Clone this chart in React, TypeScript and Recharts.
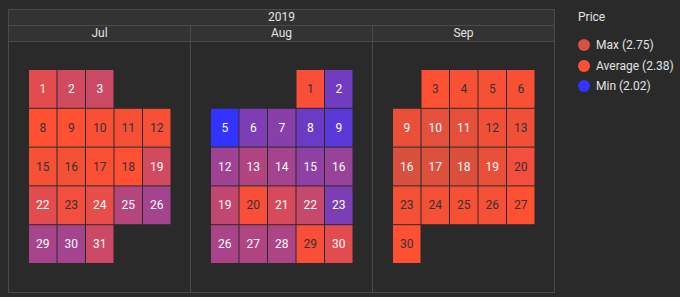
import { ScatterChart, Scatter, XAxis, YAxis } from "recharts";

const YEAR = 2019;
const MONTHS = ["Jul", "Aug", "Sep"];
const MONTH_NUMBERS = [6, 7, 8];

const JUL_DAYS = [1, 2, 3, 8, 9, 10, 11, 12, 15, 16, 17, 18, 19, 22, 23, 24, 25, 26, 29, 30, 31];
const JUL_PRICES = [2.33, 2.3, 2.29, 2.38, 2.38, 2.44, 2.49, 2.47, 2.47, 2.49, 2.42, 2.38, 2.3, 2.33, 2.36, 2.34, 2.25, 2.22, 2.225, 2.22, 2.29];

const AUG_DAYS = [1, 2, 5, 6, 7, 8, 9, 12, 13, 14, 15, 16, 19, 20, 21, 22, 23, 26, 27, 28, 29, 30];
const AUG_PRICES = [2.37, 2.13, 2.02, 2.15, 2.17, 2.12, 2.09, 2.21, 2.24, 2.22, 2.18, 2.2, 2.27, 2.37, 2.31, 2.28, 2.15, 2.23, 2.24, 2.235, 2.37, 2.33];

const SEP_DAYS = [3, 4, 5, 6, 9, 10, 11, 12, 13, 16, 17, 18, 19, 20, 23, 24, 25, 26, 27, 30];
const SEP_PRICES = [2.38, 2.46, 2.45, 2.46, 2.58, 2.65, 2.62, 2.51, 2.52, 2.75, 2.7, 2.72, 2.6, 2.36, 2.48, 2.48, 2.46, 2.47, 2.39, 2.38];

const DAYS = [JUL_DAYS, AUG_DAYS, SEP_DAYS];
const PRICES = [JUL_PRICES, AUG_PRICES, SEP_PRICES];

const LEGEND_TITLE = "Price";
const LEGEND_LABELS = ["Max", "Average", "Min"];
const LEGEND_VALUES = [2.75, 2.38, 2.02];

const [PRICE_MAX, PRICE_AVG, PRICE_MIN] = LEGEND_VALUES;
const MIN_RGB = [51, 51, 255];
const AVG_RGB = [255, 80, 51];
const MAX_RGB = [216, 80, 62];

const BG = "#2a2a2a";
const HEADER_BG = "#333333";
const BORDER = "#4a4a4a";
const HEADER_TEXT = "#e2e2e2";
const FONT = "Roboto, 'Noto Sans', sans-serif";

// layout
const FRAME_LEFT = 8;
const FRAME_TOP = 9;
const COL_W = 182;
const ROW_H = 16;
const BODY_TOP = FRAME_TOP + ROW_H * 2;
const BODY_H = 251;
const MARGIN = { top: 29, right: 18.5, bottom: 28, left: 21 };
const CELL_W = (COL_W - MARGIN.left - MARGIN.right) / 5;
const CELL_H = (BODY_H - MARGIN.top - MARGIN.bottom) / 5;

const lerp = (a: number[], b: number[], t: number) => a.map((v, i) => v + (b[i] - v) * t);

function priceRgb(v: number) {
  if (v <= PRICE_AVG) return lerp(MIN_RGB, AVG_RGB, (v - PRICE_MIN) / (PRICE_AVG - PRICE_MIN));
  return lerp(AVG_RGB, MAX_RGB, (v - PRICE_AVG) / (PRICE_MAX - PRICE_AVG));
}

const toCss = (c: number[]) => `rgb(${c.map((v) => Math.round(v)).join(",")})`;

function luminance(c: number[]) {
  const lin = c.map((v) => {
    const s = v / 255;
    return s <= 0.03928 ? s / 12.92 : Math.pow((s + 0.055) / 1.055, 2.4);
  });
  return 0.2126 * lin[0] + 0.7152 * lin[1] + 0.0722 * lin[2];
}

const dayNum = (m: number, d: number) => Math.round(Date.UTC(YEAR, m, d) / 86400000);
const weekdayOf = (m: number, d: number) => (new Date(Date.UTC(YEAR, m, d)).getUTCDay() + 6) % 7;

function buildMonth(mi: number) {
  const m = MONTH_NUMBERS[mi];
  let first = 1;
  while (weekdayOf(m, first) > 4) first++;
  const firstMonday = dayNum(m, first) - weekdayOf(m, first);
  return DAYS[mi].map((d, i) => {
    const rgb = priceRgb(PRICES[mi][i]);
    return {
      day: d,
      price: PRICES[mi][i],
      weekday: weekdayOf(m, d),
      week: (dayNum(m, d) - weekdayOf(m, d) - firstMonday) / 7,
      fill: toCss(rgb),
      textFill: luminance(rgb) > 0.245 ? "#333333" : "#ffffff",
    };
  });
}

const DayCell = (props: any) => {
  const { cx, cy, payload } = props;
  if (cx == null || cy == null) return null;
  return (
    <g>
      <rect x={cx - CELL_W / 2} y={cy - CELL_H / 2} width={CELL_W - 1} height={CELL_H - 1} fill={payload.fill} />
      <text
        x={cx - 0.5}
        y={cy - 0.5}
        textAnchor="middle"
        dominantBaseline="central"
        fontSize={12}
        fontFamily={FONT}
        fill={payload.textFill}
      >
        {payload.day}
      </text>
    </g>
  );
};

function MonthGrid({ mi }: { mi: number }) {
  const data = buildMonth(mi);
  return (
    <ScatterChart width={COL_W} height={BODY_H} margin={MARGIN}>
      <XAxis type="number" dataKey="weekday" domain={[-0.5, 4.5]} hide />
      <YAxis type="number" dataKey="week" domain={[-0.5, 4.5]} reversed hide />
      <Scatter data={data} shape={DayCell} isAnimationActive={false} />
    </ScatterChart>
  );
}

const box = (left: number, top: number, width: number, height: number, bg?: string) => ({
  position: "absolute" as const,
  left,
  top,
  width,
  height,
  boxSizing: "border-box" as const,
  border: `1px solid ${BORDER}`,
  background: bg,
  color: HEADER_TEXT,
  fontSize: 12,
  lineHeight: `${height - 2}px`,
  textAlign: "center" as const,
});

export default function App() {
  return (
    <div
      style={{
        position: "absolute",
        left: 0,
        top: 0,
        width: 680,
        height: 297,
        background: BG,
        fontFamily: FONT,
        overflow: "hidden",
      }}
    >
      <div style={box(FRAME_LEFT, FRAME_TOP, COL_W * 3 + 1, ROW_H + 1, HEADER_BG)}>{YEAR}</div>
      {MONTHS.map((name, i) => (
        <div key={name} style={box(FRAME_LEFT + i * COL_W, FRAME_TOP + ROW_H, COL_W + 1, ROW_H + 1, HEADER_BG)}>
          {name}
        </div>
      ))}
      {MONTHS.map((name, i) => (
        <div key={name + "-body"} style={box(FRAME_LEFT + i * COL_W, BODY_TOP, COL_W + 1, BODY_H + 1)} />
      ))}
      {MONTHS.map((name, i) => (
        <div key={name + "-chart"} style={{ position: "absolute", left: FRAME_LEFT + i * COL_W, top: BODY_TOP }}>
          <MonthGrid mi={i} />
        </div>
      ))}
      <div style={{ position: "absolute", left: 578, top: 9, color: HEADER_TEXT, fontSize: 12, lineHeight: "16px" }}>
        {LEGEND_TITLE}
      </div>
      {LEGEND_LABELS.map((label, i) => (
        <div
          key={label}
          style={{
            position: "absolute",
            left: 578,
            top: 37 + i * 20.5,
            height: 16,
            display: "flex",
            alignItems: "center",
            color: HEADER_TEXT,
            fontSize: 12,
          }}
        >
          <span
            style={{
              display: "inline-block",
              width: 12,
              height: 12,
              borderRadius: 6,
              background: toCss(priceRgb(LEGEND_VALUES[i])),
              marginRight: 6,
            }}
          />
          {`${label} (${LEGEND_VALUES[i].toFixed(2)})`}
        </div>
      ))}
    </div>
  );
}
